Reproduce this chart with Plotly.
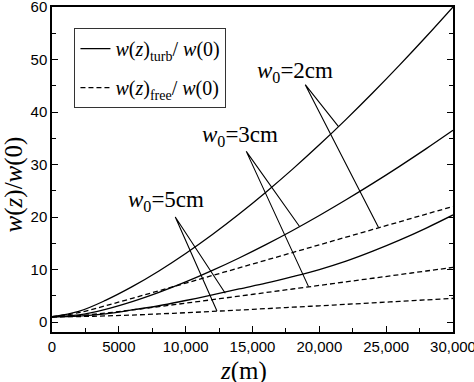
import plotly.graph_objects as go

# ---- data ----
z_m = [0, 2000, 4000, 6000, 8000, 10000, 12000, 14000, 16000, 18000,
       20000, 22000, 24000, 26000, 28000, 30000]

turb_2cm = [1.0, 2.02, 4.12, 6.73, 9.72, 13.05, 16.67, 20.57, 24.73, 29.12,
            33.75, 38.60, 43.66, 48.92, 54.37, 60.0]
turb_3cm = [1.0, 1.36, 2.41, 3.88, 5.64, 7.63, 9.83, 12.20, 14.74, 17.44,
            20.29, 23.28, 26.40, 29.65, 33.02, 36.51]
turb_5cm = [1.0, 1.12, 1.55, 2.3, 3.1, 4.1, 5.15, 6.3, 7.4, 8.65,
            10.0, 11.6, 13.5, 15.6, 17.9, 20.4]

free_2cm = [1.0, 1.78, 3.10, 4.51, 5.95, 7.40, 8.86, 10.31, 11.78, 13.24,
            14.70, 16.16, 17.63, 19.09, 20.56, 22.02]
free_3cm = [1.0, 1.22, 1.70, 2.30, 2.94, 3.59, 4.26, 4.93, 5.61, 6.29,
            6.97, 7.66, 8.34, 9.03, 9.72, 10.40]
free_5cm = [1.0, 1.04, 1.16, 1.33, 1.54, 1.77, 2.02, 2.28, 2.55, 2.82,
            3.09, 3.37, 3.65, 3.93, 4.22, 4.50]

x_tickvals = [0, 5000, 10000, 15000, 20000, 25000, 30000]
x_ticktext = ["0", "5000", "10,000", "15,000", "20,000", "25,000", "30,000"]
y_tickvals = [0, 10, 20, 30, 40, 50, 60]

legend_turb = "<i>w</i>(<i>z</i>)<sub>turb</sub>/ <i>w</i>(0)"
legend_free = "<i>w</i>(<i>z</i>)<sub>free</sub>/ <i>w</i>(0)"
x_title = "<i>z</i>(m)"
y_title = "<i>w</i>(<i>z</i>)/<i>w</i>(0)"

# annotation labels: text, label x, label y, leader start, two leader ends
labels = ["<i>w</i><sub>0</sub>=2cm", "<i>w</i><sub>0</sub>=3cm", "<i>w</i><sub>0</sub>=5cm"]
label_x = [18150, 14100, 8500]
label_y = [47.6, 35.4, 23.0]
leader_x = [[21436, 18946, 24428], [18519, 14533, 19192], [12962, 9222, 12341]]
leader_y = [[37.2, 45.2, 18.0], [18.2, 32.5, 6.74], [5.48, 20.0, 2.1]]

# ---- figure ----
fig = go.Figure()
LW = 1.3
turb_series = [turb_2cm, turb_3cm, turb_5cm]
free_series = [free_2cm, free_3cm, free_5cm]
for i, ys in enumerate(turb_series):
    fig.add_trace(go.Scatter(x=z_m, y=ys, mode="lines", line=dict(color="black", width=LW, shape="spline"),
                             name=legend_turb, showlegend=(i == 0), legendgroup="turb"))
for i, ys in enumerate(free_series):
    fig.add_trace(go.Scatter(x=z_m, y=ys, mode="lines",
                             line=dict(color="black", width=LW, dash="5px,3px", shape="spline"),
                             name=legend_free, showlegend=(i == 0), legendgroup="free"))

for lx, ly in zip(leader_x, leader_y):
    fig.add_trace(go.Scatter(x=lx, y=ly, mode="lines", line=dict(color="black", width=1.1),
                             showlegend=False, hoverinfo="skip"))

serif = "Liberation Serif"
for t, x, y in zip(labels, label_x, label_y):
    fig.add_annotation(x=x, y=y, text=t, showarrow=False, xref="x", yref="y",
                       font=dict(family=serif, size=23, color="black"))

fig.add_annotation(x=0.477, y=-0.12, xref="paper", yref="paper", text=x_title, showarrow=False,
                   xanchor="center", yanchor="middle", font=dict(family=serif, size=25, color="black"))
fig.add_annotation(x=-0.094, y=0.455, xref="paper", yref="paper", text=y_title, showarrow=False,
                   textangle=-90, xanchor="center", yanchor="middle",
                   font=dict(family=serif, size=25, color="black"))

fig.update_layout(
    width=474, height=382,
    margin=dict(l=52, r=21, t=7, b=50),
    paper_bgcolor="white", plot_bgcolor="white",
    showlegend=True,
    legend=dict(x=0.056, y=0.935, xanchor="left", yanchor="top",
                bordercolor="#333", borderwidth=1, bgcolor="white",
                font=dict(family=serif, size=20, color="black"),
                tracegroupgap=10, traceorder="grouped"),
    font=dict(family="Liberation Sans", color="black"),
)
fig.update_xaxes(range=[0, 30000], tickmode="array", tickvals=x_tickvals, ticktext=x_ticktext,
                 automargin=False, ticklabeloverflow="allow",
                 ticks="inside", ticklen=6, tickwidth=1.3, tickcolor="black",
                 showline=True, linecolor="black", linewidth=1.5, mirror=True,
                 showgrid=False, zeroline=False,
                 tickfont=dict(family="Liberation Sans", size=15, color="black"),
                 minor=dict(tickmode="linear", tick0=0, dtick=2500, ticks="inside", ticklen=4,
                            tickwidth=1.2, tickcolor="black", showgrid=False))
fig.update_yaxes(range=[-1.9, 60], tickmode="array", tickvals=y_tickvals,
                 automargin=False, ticklabeloverflow="allow",
                 ticks="inside", ticklen=6, tickwidth=1.3, tickcolor="black",
                 showline=True, linecolor="black", linewidth=1.5, mirror="ticks",
                 showgrid=False, zeroline=False,
                 tickfont=dict(family="Liberation Sans", size=15, color="black"),
                 minor=dict(tickmode="linear", tick0=5, dtick=10, ticks="inside", ticklen=4,
                            tickwidth=1.2, tickcolor="black", showgrid=False))

fig.write_html("out.html", config={"displayModeBar": False},
               post_script="document.body.style.margin='0';")
